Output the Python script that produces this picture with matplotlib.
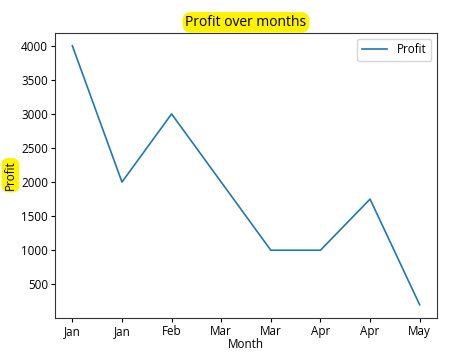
import numpy as np
import matplotlib.pyplot as plt

plt.rcParams['font.family'] = ['Open Sans', 'DejaVu Sans']
plt.rcParams['font.size'] = 8.4

months = ['Jan', 'Jan', 'Feb', 'Mar', 'Mar', 'Apr', 'Apr', 'May']
profit = [4000, 2000, 3000, 2000, 1000, 1000, 1750, 200]

fig = plt.figure(figsize=(4.74, 3.53), dpi=100)
ax = fig.add_axes([0.116, 0.1, 0.806, 0.807])

x = np.arange(len(months))
ax.plot(x, profit, color='#1f77b4', lw=1.2, label='Profit')
ax.set_xticks(x)
ax.set_xticklabels(months)
ax.set_yticks([500, 1000, 1500, 2000, 2500, 3000, 3500, 4000])

hl = dict(boxstyle='round,pad=0.2,rounding_size=0.6', fc='#fff200', ec='none')
ax.set_title('Profit over months', fontsize=10, bbox=hl, pad=5)
ax.set_xlabel('Month', labelpad=0)
ax.set_ylabel('Profit', bbox=hl, labelpad=3)

for s in ax.spines.values():
    s.set_linewidth(0.8)
    s.set_color('#333333')
ax.tick_params(width=0.8, length=3, pad=2)

ax.legend(loc='upper right', handlelength=2.2, frameon=True, fontsize=8.4)
fig.savefig('out.png', dpi=100)
